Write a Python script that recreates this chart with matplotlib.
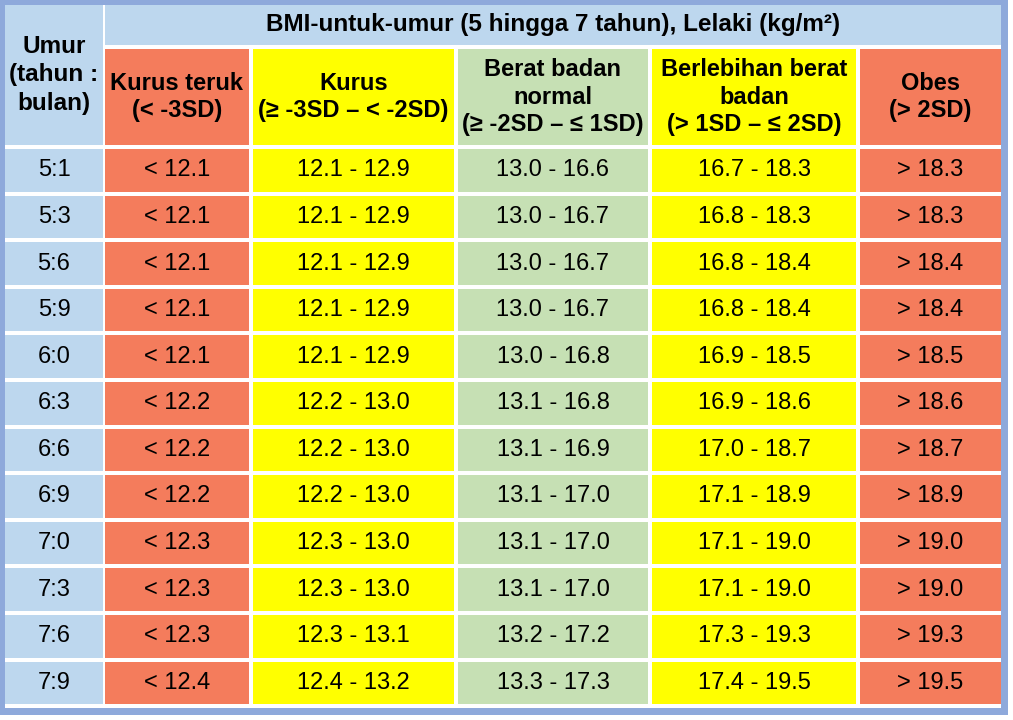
import matplotlib
matplotlib.use("Agg")
import matplotlib.pyplot as plt
from matplotlib.patches import Rectangle

plt.rcParams['font.family'] = ['Liberation Sans', 'DejaVu Sans']

title = "BMI-untuk-umur (5 hingga 7 tahun), Lelaki (kg/m²)"
age_header = "Umur\n(tahun :\nbulan)"
headers = ["Kurus teruk\n(< -3SD)", "Kurus\n(≥ -3SD – < -2SD)", "Berat badan\nnormal\n(≥ -2SD – ≤ 1SD)",
           "Berlebihan berat\nbadan\n(> 1SD – ≤ 2SD)", "Obes\n(> 2SD)"]
ages = ["5:1", "5:3", "5:6", "5:9", "6:0", "6:3", "6:6", "6:9", "7:0", "7:3", "7:6", "7:9"]
severe = ["< 12.1", "< 12.1", "< 12.1", "< 12.1", "< 12.1", "< 12.2", "< 12.2", "< 12.2", "< 12.3", "< 12.3", "< 12.3", "< 12.4"]
thin = ["12.1 - 12.9", "12.1 - 12.9", "12.1 - 12.9", "12.1 - 12.9", "12.1 - 12.9", "12.2 - 13.0",
        "12.2 - 13.0", "12.2 - 13.0", "12.3 - 13.0", "12.3 - 13.0", "12.3 - 13.1", "12.4 - 13.2"]
normal = ["13.0 - 16.6", "13.0 - 16.7", "13.0 - 16.7", "13.0 - 16.7", "13.0 - 16.8", "13.1 - 16.8",
          "13.1 - 16.9", "13.1 - 17.0", "13.1 - 17.0", "13.1 - 17.0", "13.2 - 17.2", "13.3 - 17.3"]
over = ["16.7 - 18.3", "16.8 - 18.3", "16.8 - 18.4", "16.8 - 18.4", "16.9 - 18.5", "16.9 - 18.6",
        "17.0 - 18.7", "17.1 - 18.9", "17.1 - 19.0", "17.1 - 19.0", "17.3 - 19.3", "17.4 - 19.5"]
obese = ["> 18.3", "> 18.3", "> 18.4", "> 18.4", "> 18.5", "> 18.6", "> 18.7", "> 18.9", "> 19.0", "> 19.0", "> 19.3", "> 19.5"]

RED, YEL, GRN, BLUE, BORDER = "#F47C5C", "#FFFF00", "#C6E0B4", "#BDD7EE", "#8EA9DB"
col_colors = [BLUE, RED, YEL, GRN, YEL, RED]

# column edges in pixels
col_x = [(5, 103), (105, 249), (253, 454), (458, 648), (652, 856), (860, 1001)]
row_top, row_h, gap = 149, 46.6, 4

fig = plt.figure(figsize=(10.13, 7.2), dpi=100)
ax = fig.add_axes([0, 0, 1, 1])
ax.set_xlim(0, 1013)
ax.set_ylim(720, 0)
ax.axis("off")

def cell(x0, x1, y0, y1, color, text, size=17, ls=1.2, **kw):
    ax.add_patch(Rectangle((x0, y0), x1 - x0, y1 - y0, facecolor=color, edgecolor="none"))
    ax.text((x0 + x1) / 2, (y0 + y1) / 2, text, ha="center", va="center", fontsize=size,
            linespacing=ls, **kw)

# outer border
ax.add_patch(Rectangle((0, 0), 1008, 715, facecolor=BORDER, edgecolor="none"))
ax.add_patch(Rectangle((5, 5), 996, 703, facecolor="white", edgecolor="none"))

cell(col_x[0][0], col_x[0][1], 5, 145, BLUE, age_header, size=17.5, ls=1.3, fontweight="bold")
cell(col_x[1][0], col_x[5][1], 5, 45, BLUE, title, size=17.5, fontweight="bold")
for (x0, x1), c, h in zip(col_x[1:], col_colors[1:], headers):
    cell(x0, x1, 49, 145, c, h, size=17, ls=1.25, fontweight="bold")

columns = [ages, severe, thin, normal, over, obese]
for i in range(len(ages)):
    y0 = row_top + i * row_h
    y1 = y0 + row_h - gap
    for (x0, x1), c, vals in zip(col_x, col_colors, columns):
        cell(x0, x1, y0, y1, c, vals[i])

fig.savefig("out.png", dpi=100)
